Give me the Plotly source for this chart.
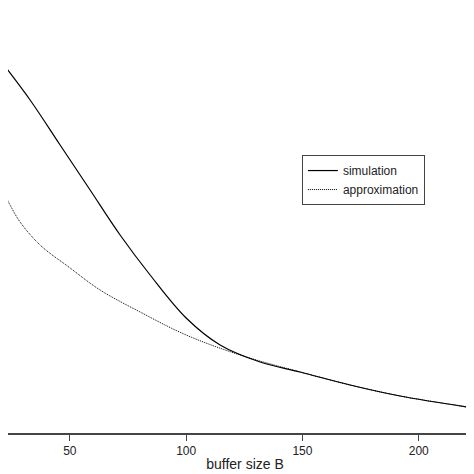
import plotly.graph_objects as go

B_sim = [20, 32.9, 45.8, 58.7, 71.6, 84.5, 100, 114.6, 131.8, 149, 170.5, 192, 223.8]
sim = [3.73, 3.33, 2.88, 2.43, 1.98, 1.58, 1.15, 0.88, 0.71, 0.61, 0.48, 0.37, 0.25]
B_app = [20, 24.3, 28.6, 37.2, 50.1, 63, 80.2, 100, 123.2, 149, 170.5, 192, 223.8]
app = [2.48, 2.28, 2.11, 1.88, 1.65, 1.43, 1.21, 0.98, 0.78, 0.61, 0.48, 0.37, 0.25]
xticks = [50, 100, 150, 200]

fig = go.Figure()
fig.add_trace(go.Scatter(x=B_sim, y=sim, mode="lines", name="simulation",
                         line=dict(color="black", width=1.2, shape="spline")))
fig.add_trace(go.Scatter(x=B_app, y=app, mode="lines", name="approximation",
                         line=dict(color="black", width=1, dash="1px,1px", shape="spline")))
fig.update_layout(
    width=474, height=474, margin=dict(l=0, r=0, t=0, b=49),
    paper_bgcolor="white", plot_bgcolor="white",
    font=dict(family="Liberation Sans", size=12, color="#222"),
    xaxis=dict(range=[23.4, 227.2], tickvals=xticks, ticks="outside", ticklen=6,
               showline=True, linecolor="#444", linewidth=1.5, showgrid=False,
               zeroline=False, title=dict(text="buffer size B", standoff=2)),
    yaxis=dict(range=[0, 4.25], visible=False),
    legend=dict(x=0.62, y=0.654, xanchor="left", yanchor="top",
                bordercolor="#444", borderwidth=1, bgcolor="white",
                tracegroupgap=0, itemwidth=30, font=dict(size=12)),
)
fig.write_html("out.html")
